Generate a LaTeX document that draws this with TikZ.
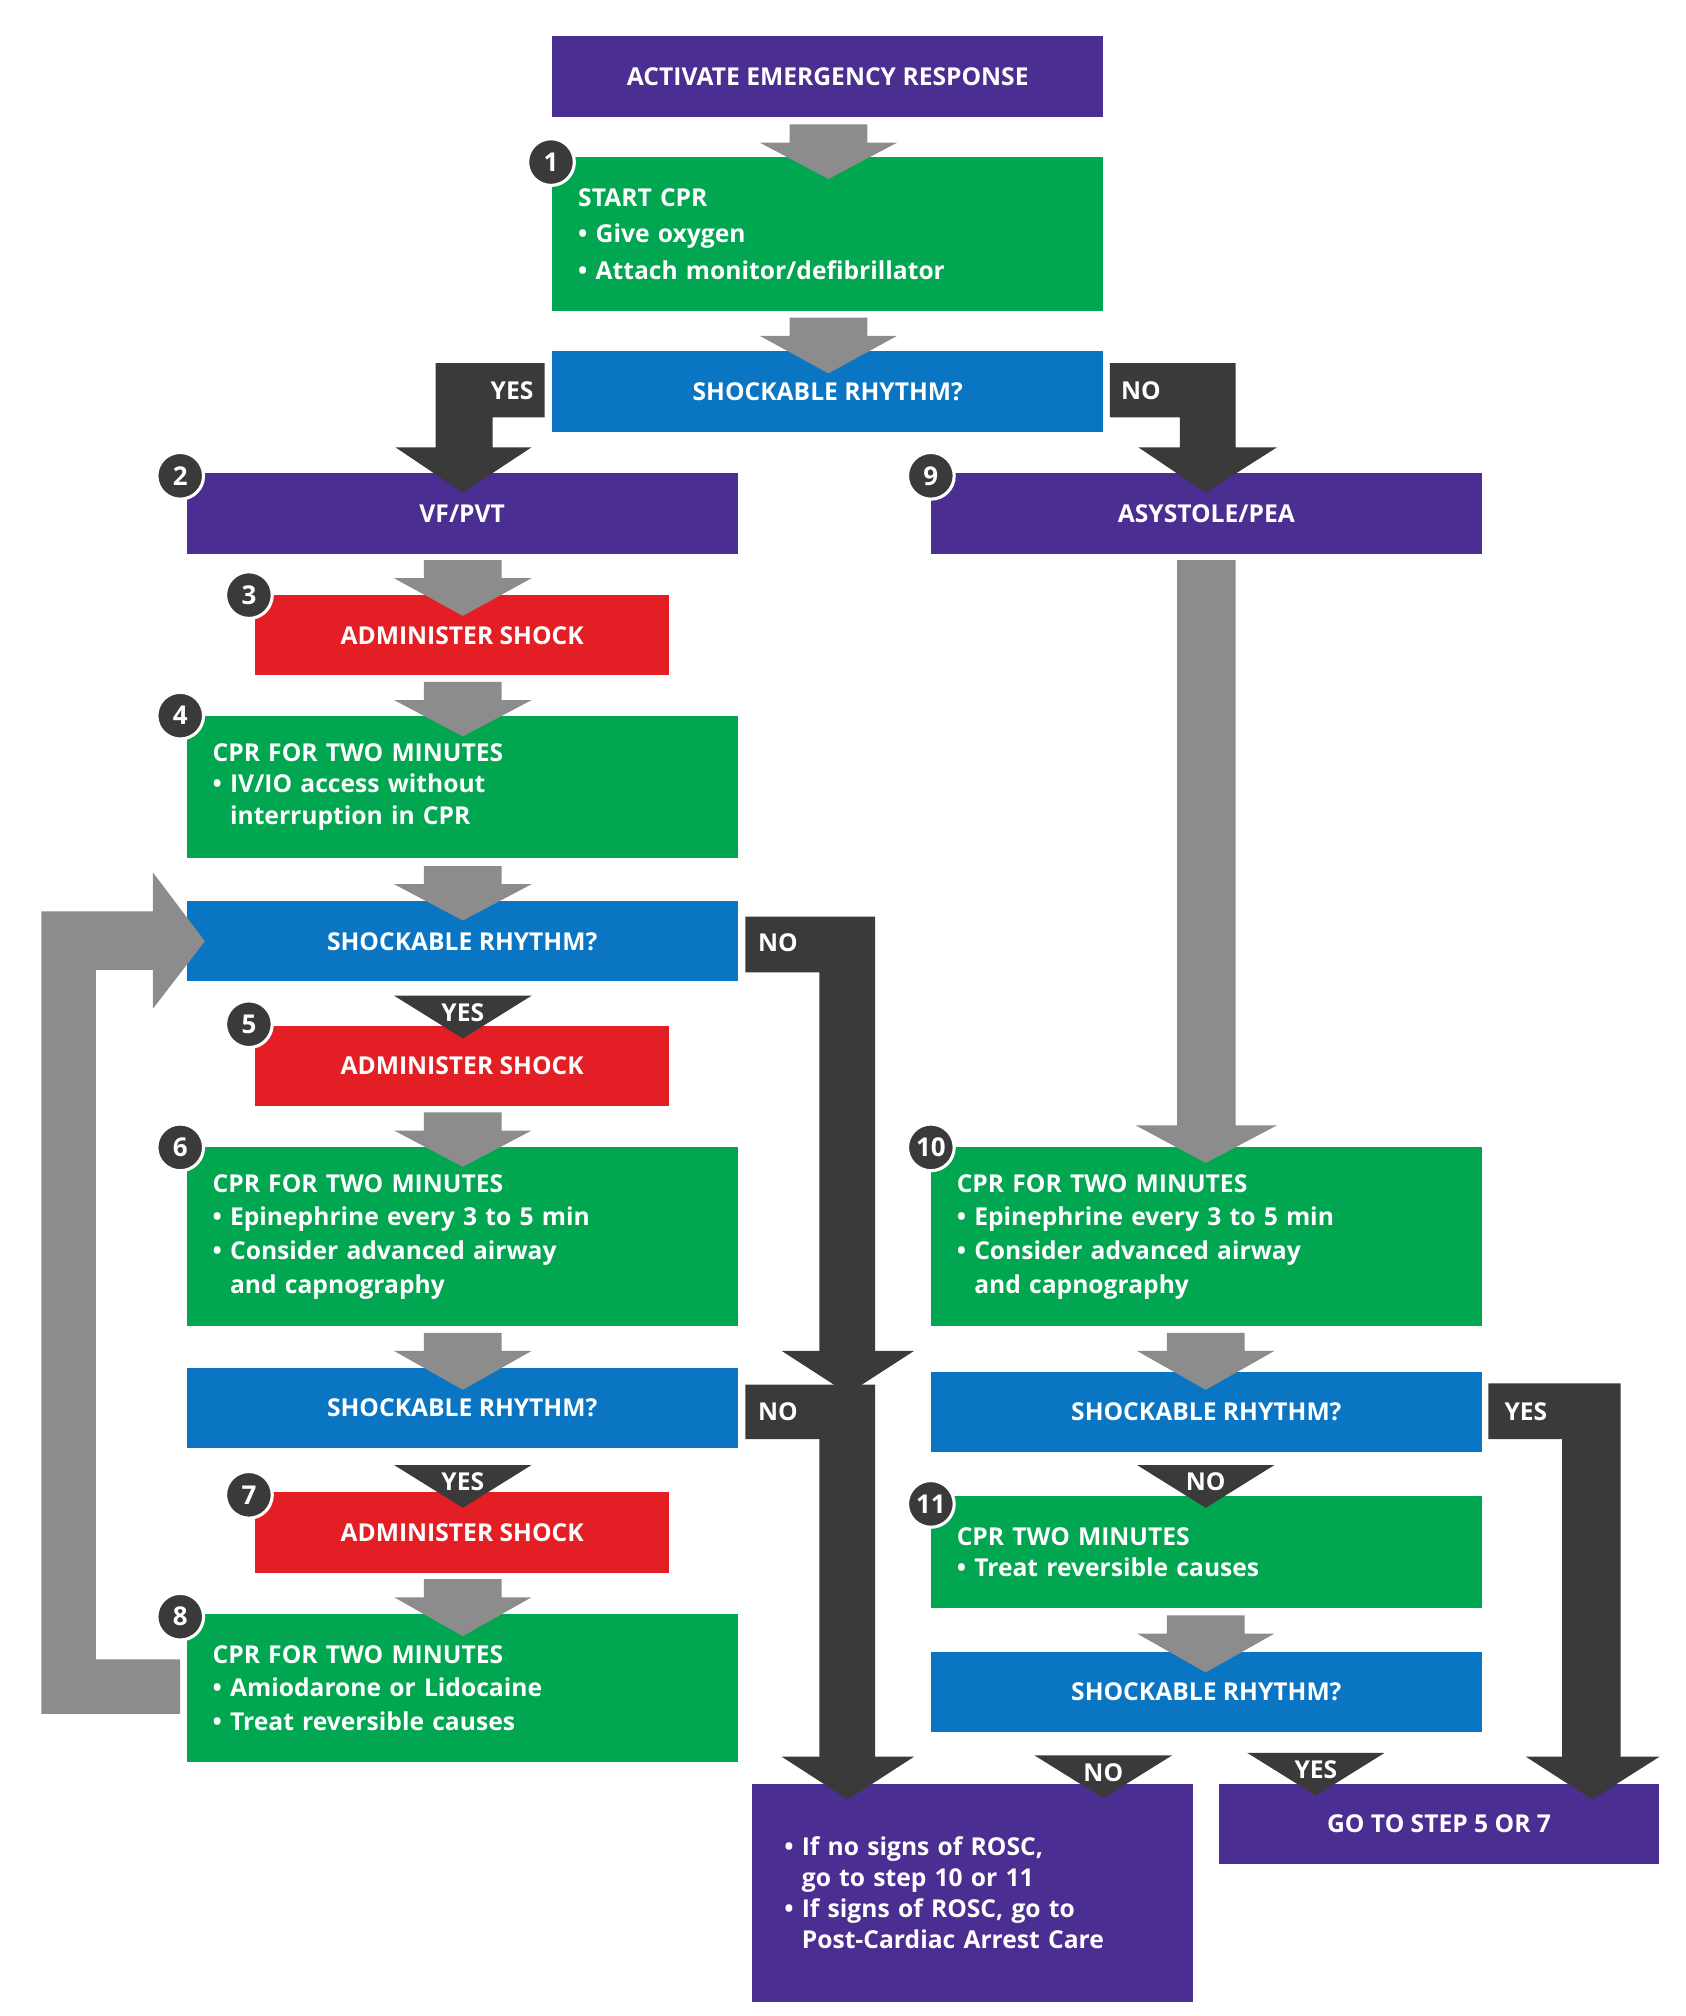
\documentclass[tikz,border=0pt]{standalone}
\usepackage{fontspec}
\setmainfont{Open Sans}
\definecolor{pur}{HTML}{4B2E91}
\definecolor{grn}{HTML}{00A650}
\definecolor{blu}{HTML}{0A75C2}
\definecolor{rd}{HTML}{E31E24}
\definecolor{gy}{HTML}{8C8C8C}
\definecolor{dk}{HTML}{3A3A3A}
\newcommand\ind{\phantom{• }}
\newcommand\garrow[3]{\fill[gy] (#1-30,#2) -- (#1+30,#2) -- (#1+30,#2+14) -- (#1+53,#2+14) -- (#1,#3) -- (#1-53,#2+14) -- (#1-30,#2+14) -- cycle;}
\newcommand\ltri[3]{\fill[dk] (#1-53,#2) -- (#1+53,#2) -- (#1,#2+33); \node[lbl] at (#1,#2+13) {#3};}
\tikzset{
 box/.style={inner sep=0,text=white,font=\bfseries\fontsize{9.5}{13}\selectfont,minimum height=31pt},
 wide/.style={box,minimum width=212.5pt},
 narrow/.style={box,minimum width=159.5pt},
 tbox/.style={box,text width=192.5pt,inner xsep=10pt,align=left,minimum width=212.5pt},
 num/.style={circle,fill=dk,draw=white,line width=1.2pt,minimum size=18pt,inner sep=0,text=white,font=\bfseries\fontsize{10}{12}\selectfont},
 lbl/.style={text=white,font=\bfseries\fontsize{9.5}{11}\selectfont,inner sep=0},
}
\begin{document}
\begin{tikzpicture}[x=0.5pt,y=-0.5pt]
\useasboundingbox (0,0) rectangle (1300,1555);
% boxes
\node[wide,fill=pur] (act) at (638.5,59) {ACTIVATE EMERGENCY RESPONSE};
\node[tbox,fill=grn,minimum height=59.5pt,font=\bfseries\fontsize{9.5}{14}\selectfont] (s1) at (638.5,180.5) {START CPR\\• Give oxygen\\• Attach monitor/defibrillator};
\node[wide,fill=blu] (q1) at (638.5,302) {SHOCKABLE RHYTHM?};
\node[wide,fill=pur] (vf) at (356.5,396) {VF/PVT};
\node[wide,fill=pur] (as) at (930.5,396) {ASYSTOLE/PEA};
\node[narrow,fill=rd] (s3) at (356.5,490) {ADMINISTER SHOCK};
\node[tbox,fill=grn,minimum height=55pt,font=\bfseries\fontsize{9.5}{12}\selectfont] (s4) at (356.5,607) {CPR FOR TWO MINUTES\\• IV/IO access without\\\ind interruption in CPR};
\node[wide,fill=blu] (q2) at (356.5,726) {SHOCKABLE RHYTHM?};
\node[narrow,fill=rd] (s5) at (356.5,822) {ADMINISTER SHOCK};
\node[tbox,fill=grn,minimum height=69pt,font=\bfseries\fontsize{9.5}{13}\selectfont] (s6) at (356.5,954) {CPR FOR TWO MINUTES\\• Epinephrine every 3 to 5 min\\• Consider advanced airway\\\ind and capnography};
\node[wide,fill=blu] (q3) at (356.5,1086) {SHOCKABLE RHYTHM?};
\node[narrow,fill=rd] (s7) at (356.5,1182) {ADMINISTER SHOCK};
\node[tbox,fill=grn,minimum height=57pt,font=\bfseries\fontsize{9.5}{13}\selectfont] (s8) at (356.5,1302) {CPR FOR TWO MINUTES\\• Amiodarone or Lidocaine\\• Treat reversible causes};
\node[tbox,fill=grn,minimum height=69pt,font=\bfseries\fontsize{9.5}{13}\selectfont] (s10) at (930.5,954) {CPR FOR TWO MINUTES\\• Epinephrine every 3 to 5 min\\• Consider advanced airway\\\ind and capnography};
\node[wide,fill=blu] (q4) at (930.5,1089) {SHOCKABLE RHYTHM?};
\node[tbox,fill=grn,minimum height=43pt,font=\bfseries\fontsize{9.5}{12}\selectfont] (s11) at (930.5,1197) {CPR TWO MINUTES\\• Treat reversible causes};
\node[wide,fill=blu] (q5) at (930.5,1305) {SHOCKABLE RHYTHM?};
\node[box,fill=pur,minimum width=170pt,minimum height=84pt,text width=145pt,inner xsep=12.5pt,align=left,font=\bfseries\fontsize{9.5}{12}\selectfont] (fin) at (750,1460) {• If no signs of ROSC,\\\ind go to step 10 or 11\\• If signs of ROSC, go to\\\ind Post-Cardiac Arrest Care};
\node[box,fill=pur,minimum width=170pt] (go) at (1110,1407) {GO TO STEP 5 OR 7};
% gray arrows
\garrow{639}{96}{138}
\garrow{639}{245}{288}
\garrow{357}{432}{475}
\garrow{357}{526}{568}
\garrow{357}{668}{710}
\garrow{357}{858}{900}
\garrow{357}{1028}{1072}
\garrow{357}{1218}{1262}
\garrow{930}{1028}{1072}
\garrow{930}{1246}{1290}
\fill[gy] (908,432) -- (953,432) -- (953,868) -- (985,868) -- (930,897) -- (876,868) -- (908,868) -- cycle;
\fill[gy] (139,1280) -- (74,1280) -- (74,748) -- (118,748) -- (118,778) -- (158,726) -- (118,673) -- (118,703) -- (32,703) -- (32,1322) -- (139,1322) -- cycle;
% dark arrows
\fill[dk] (420,280) -- (336,280) -- (336,345) -- (305,345) -- (357,380) -- (410,345) -- (380,345) -- (380,322) -- (420,322) -- cycle;
\node[lbl] at (395,301) {YES};
\fill[dk] (856,280) -- (953,280) -- (953,345) -- (985,345) -- (930,380) -- (878,345) -- (910,345) -- (910,322) -- (856,322) -- cycle;
\node[lbl] at (880,301) {NO};
\fill[dk] (575,1068) -- (675,1068) -- (675,1355) -- (705,1355) -- (654,1388) -- (603,1355) -- (632,1355) -- (632,1110) -- (575,1110) -- cycle;
\node[lbl] at (600,1089) {NO};
\fill[dk] (575,707) -- (675,707) -- (675,1042) -- (705,1042) -- (654,1075) -- (603,1042) -- (632,1042) -- (632,750) -- (575,750) -- cycle;
\node[lbl] at (600,727) {NO};
\fill[dk] (1148,1067) -- (1250,1067) -- (1250,1355) -- (1280,1355) -- (1228,1388) -- (1177,1355) -- (1205,1355) -- (1205,1110) -- (1148,1110) -- cycle;
\node[lbl] at (1177,1089) {YES};
\ltri{357}{768}{YES}
\ltri{357}{1130}{YES}
\ltri{930}{1130}{NO}
\ltri{851}{1354}{NO}
\ltri{1015}{1352}{YES}
% numbers
\node[num] at (425,125) {1};
\node[num] at (139,367) {2};
\node[num] at (192,459) {3};
\node[num] at (139,552) {4};
\node[num] at (192,790) {5};
\node[num] at (139,885) {6};
\node[num] at (192,1153) {7};
\node[num] at (139,1247) {8};
\node[num] at (718,367) {9};
\node[num] at (718,885) {10};
\node[num] at (718,1160) {11};
\end{tikzpicture}
\end{document}
